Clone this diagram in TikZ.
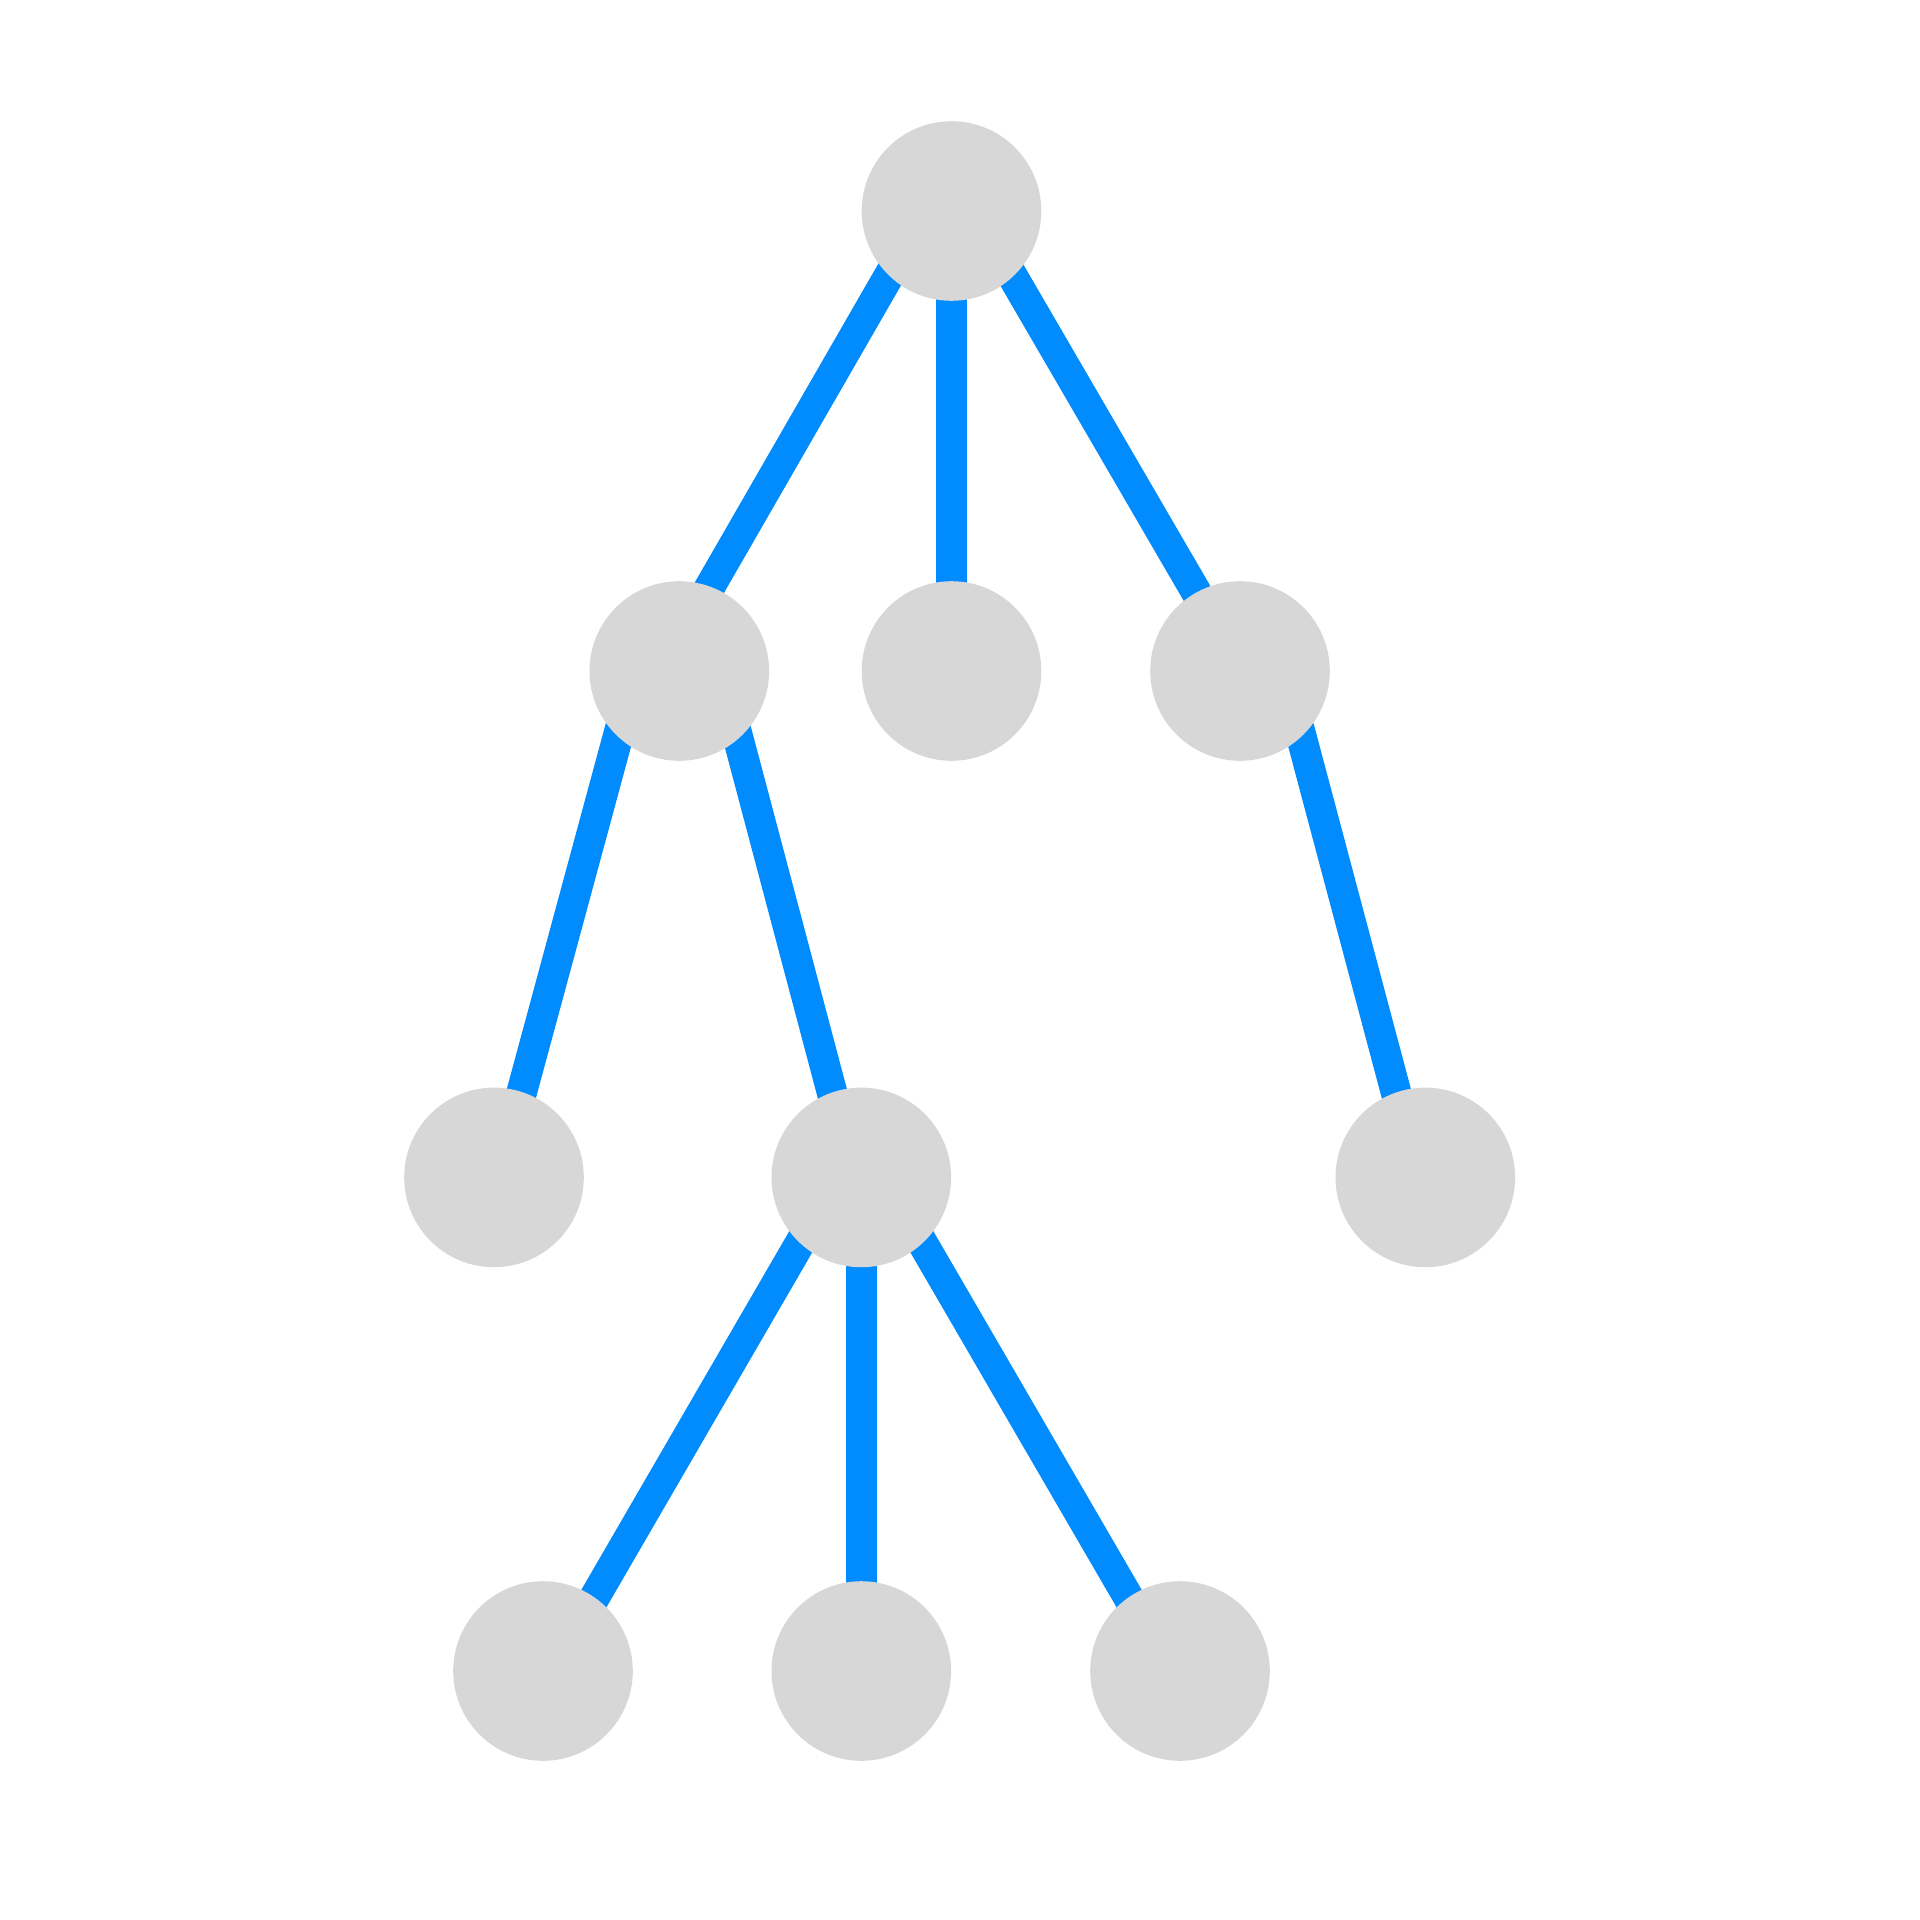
\documentclass[tikz,border=0pt]{standalone}
\usetikzlibrary{backgrounds}
\definecolor{linkblue}{HTML}{008CFF}
\definecolor{nodegray}{HTML}{D7D7D7}
\tikzset{
  treenode/.style={circle,fill=nodegray,draw=none,inner sep=0pt,minimum size=179.6pt},
  link/.style={draw=linkblue,line width=30.5pt,line cap=butt,shorten <=-10pt,shorten >=-10pt}
}
\begin{document}
\begin{tikzpicture}[x=1pt,y=-1pt]
\useasboundingbox (0,0) rectangle (1920,1920);
\node[treenode] (root) at (951.5,211) {};
\node[treenode] (cl) at (679.3,671) {};
\node[treenode] (cm) at (951.5,671) {};
\node[treenode] (cr) at (1240,671) {};
\node[treenode] (ml) at (494,1177.4) {};
\node[treenode] (mm) at (861.3,1177.4) {};
\node[treenode] (mr) at (1425.3,1177.4) {};
\node[treenode] (bl) at (543,1671) {};
\node[treenode] (bm) at (861.3,1671) {};
\node[treenode] (br) at (1180,1671) {};
\begin{scope}[on background layer]
\draw[link] (root.226.4) -- (cl.70.6);
\draw[link] (root.south) -- (cm.north);
\draw[link] (root.313.8) -- (cr.119.4);
\draw[link] (cl.227.2) -- (ml.72.2);
\draw[link] (cl.311.6) -- (mm.109.4);
\draw[link] (cr.313.6) -- (mr.109.4);
\draw[link] (mm.227.5) -- (bl.55);
\draw[link] (mm.south) -- (bm.north);
\draw[link] (mm.313.9) -- (br.125.4);
\end{scope}
\end{tikzpicture}
\end{document}
